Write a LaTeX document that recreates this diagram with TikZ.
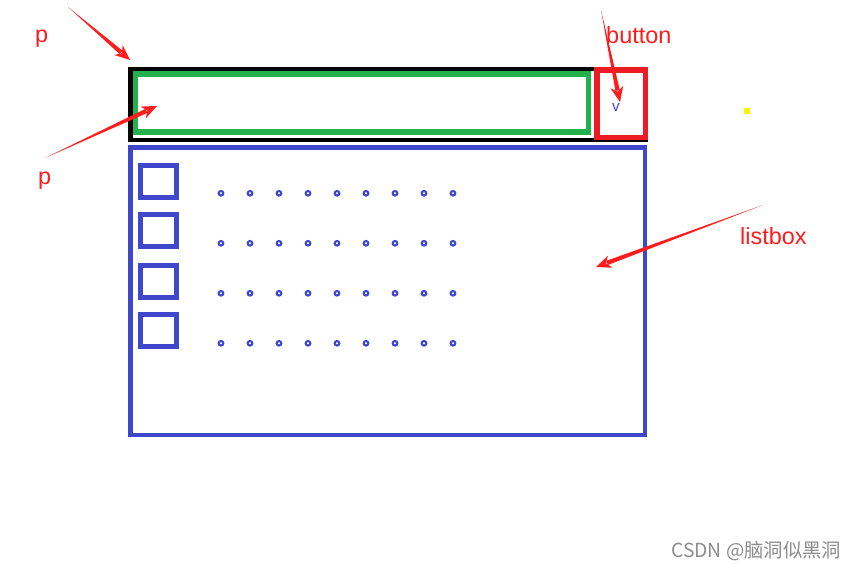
\documentclass[tikz,border=0pt]{standalone}
\usepackage{fontspec}
\setmainfont{Liberation Sans}
\newfontfamily\cjkfont{Noto Sans CJK SC}
\usetikzlibrary{calc}

\definecolor{boxgreen}{RGB}{34,177,76}
\definecolor{boxred}{RGB}{237,28,36}
\definecolor{boxblue}{RGB}{63,72,204}
\definecolor{markyellow}{RGB}{255,242,0}
\definecolor{notered}{RGB}{255,28,28}
\definecolor{markgray}{RGB}{140,140,140}

% tapered red pointer from #1 to #2
\newcommand\pointer[2]{%
  \coordinate (neck) at ($(#2)!10pt!(#1)$);
  \fill [notered] (#1) -- ($(neck)!1.9pt!90:(#1)$) -- ($(neck)!1.9pt!-90:(#1)$) -- cycle;
  \fill [notered] (#2) -- ($(#2)!13pt!(#1)!5.5pt!90:(#1)$) -- ($(#2)!9pt!(#1)$)
    -- ($(#2)!13pt!(#1)!5.5pt!-90:(#1)$) -- cycle;
}

\begin{document}
\begin{tikzpicture}[x=0.03cm,y=-0.03cm]
\tikzstyle{every node}+=[inner sep=0pt]
\tikzstyle{note}=[text=notered,font=\fontsize{20}{20}\selectfont,anchor=base west]
\tikzstyle{frame}=[line width=3.6pt]
\tikzstyle{tick}=[boxblue,line width=4.2pt]
\tikzstyle{dot}=[boxblue,line width=1.8pt]
\useasboundingbox [fill=white] (0,0) rectangle (857,573);
% combo box
\draw [black,frame] (130.5,69) rectangle (646,140);
\draw [boxgreen,line width=4.4pt] (135.5,74) rectangle (588.5,132);
\draw [boxred,line width=4.8pt] (597,70) rectangle (645.5,137.5);
\node (vmark) [text=boxblue,font=\fontsize{13}{13}\selectfont,anchor=base] at (616,111.5) {v};
% list box
\draw [boxblue,frame] (130.5,147.5) rectangle (645,435);
\draw [tick] (140.8,165.8) rectangle (176.5,197.5);
\draw [tick] (140.8,214.8) rectangle (176.5,246.5);
\draw [tick] (140.8,265.8) rectangle (176.5,297.5);
\draw [tick] (140.8,314.8) rectangle (176.5,346.5);
\foreach \y in {193.3,243.3,293.3,343.3}
  \foreach \x in {221,250,279,308,337,366,395,424,453}
    \draw [dot] (\x,\y) circle (2.3);
\fill [markyellow] (744,108) rectangle (750,114);
% labels
\node (ptop) [note] at (35,43) {p};
\node (pbot) [note] at (38,185) {p};
\node (btn) [note] at (606,44) {button};
\node (lbox) [note] at (740,245) {listbox};
\node (mark) [text=markgray,font=\cjkfont\fontsize{16.5}{16.5}\selectfont,anchor=base west] at (671,558) {CSDN @脑洞似黑洞};
% pointers
\coordinate (ptopFrom) at (68,7);
\coordinate (ptopTo) at (130,60);
\coordinate (pbotFrom) at (45,158);
\coordinate (pbotTo) at (157,106);
\coordinate (btnFrom) at (601,10);
\coordinate (btnTo) at (620,102);
\coordinate (lboxFrom) at (763,205);
\coordinate (lboxTo) at (596,267);
\pointer{ptopFrom}{ptopTo}
\pointer{pbotFrom}{pbotTo}
\pointer{btnFrom}{btnTo}
\pointer{lboxFrom}{lboxTo}
\end{tikzpicture}
\end{document}
